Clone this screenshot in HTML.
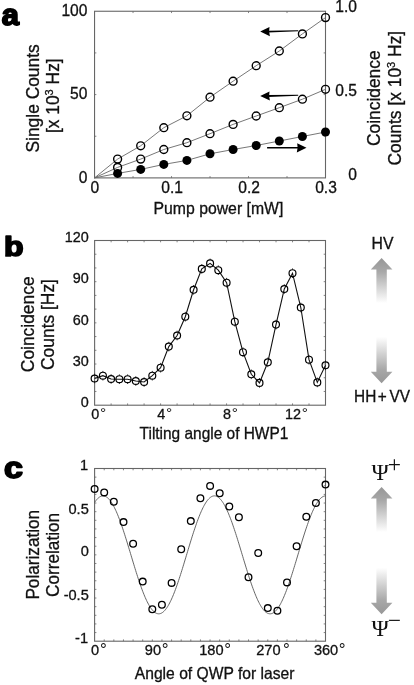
<!DOCTYPE html>
<html lang="en"><head><meta charset="utf-8"><title>Figure</title>
<style>html,body{margin:0;padding:0;background:#fff}svg{display:block}text{white-space:pre}</style>
</head><body>
<svg width="414" height="685" viewBox="0 0 414 685">
<rect x="94.55" y="11.25" width="230.95" height="166.65" fill="none" stroke="#666" stroke-width="1.1"/>
<path d="M133.04 11.25v1.8M133.04 177.9v-1.8M171.53 11.25v1.8M171.53 177.9v-1.8M210.02 11.25v1.8M210.02 177.9v-1.8M248.52 11.25v1.8M248.52 177.9v-1.8M287.01 11.25v1.8M287.01 177.9v-1.8M94.55 52.91h1.8M325.5 52.91h-1.8M94.55 94.58h1.8M325.5 94.58h-1.8M94.55 136.24h1.8M325.5 136.24h-1.8" stroke="#666" stroke-width="0.8" fill="none"/>
<polyline points="94.55,177.9 117.6,159.1 140.7,145.8 163.8,127.7 186.9,115.8 210.0,97.2 233.1,81.2 256.2,65.7 279.3,51.0 302.4,33.9 325.5,17.6" fill="none" stroke="#686868" stroke-width="0.9"/>
<polyline points="94.55,177.9 117.6,167.4 140.7,159.1 163.8,149.5 186.9,142.7 210.0,133.7 233.1,124.4 256.2,116.0 279.3,107.7 302.4,99.2 325.5,89.3" fill="none" stroke="#686868" stroke-width="0.9"/>
<polyline points="94.55,177.9 117.6,173.4 140.7,169.4 163.8,164.4 186.9,160.4 210.0,153.8 233.1,149.5 256.2,145.5 279.3,141.0 302.4,136.5 325.5,132.0" fill="none" stroke="#686868" stroke-width="0.9"/>
<circle cx="117.6" cy="159.1" r="3.95" fill="none" stroke="#000" stroke-width="1.4"/>
<circle cx="140.7" cy="145.8" r="3.95" fill="none" stroke="#000" stroke-width="1.4"/>
<circle cx="163.8" cy="127.7" r="3.95" fill="none" stroke="#000" stroke-width="1.4"/>
<circle cx="186.9" cy="115.8" r="3.95" fill="none" stroke="#000" stroke-width="1.4"/>
<circle cx="210.0" cy="97.2" r="3.95" fill="none" stroke="#000" stroke-width="1.4"/>
<circle cx="233.1" cy="81.2" r="3.95" fill="none" stroke="#000" stroke-width="1.4"/>
<circle cx="256.2" cy="65.7" r="3.95" fill="none" stroke="#000" stroke-width="1.4"/>
<circle cx="279.3" cy="51.0" r="3.95" fill="none" stroke="#000" stroke-width="1.4"/>
<circle cx="302.4" cy="33.9" r="3.95" fill="none" stroke="#000" stroke-width="1.4"/>
<circle cx="325.5" cy="17.6" r="3.95" fill="none" stroke="#000" stroke-width="1.4"/>
<circle cx="117.6" cy="167.4" r="3.95" fill="none" stroke="#000" stroke-width="1.4"/>
<circle cx="140.7" cy="159.1" r="3.95" fill="none" stroke="#000" stroke-width="1.4"/>
<circle cx="163.8" cy="149.5" r="3.95" fill="none" stroke="#000" stroke-width="1.4"/>
<circle cx="186.9" cy="142.7" r="3.95" fill="none" stroke="#000" stroke-width="1.4"/>
<circle cx="210.0" cy="133.7" r="3.95" fill="none" stroke="#000" stroke-width="1.4"/>
<circle cx="233.1" cy="124.4" r="3.95" fill="none" stroke="#000" stroke-width="1.4"/>
<circle cx="256.2" cy="116.0" r="3.95" fill="none" stroke="#000" stroke-width="1.4"/>
<circle cx="279.3" cy="107.7" r="3.95" fill="none" stroke="#000" stroke-width="1.4"/>
<circle cx="302.4" cy="99.2" r="3.95" fill="none" stroke="#000" stroke-width="1.4"/>
<circle cx="325.5" cy="89.3" r="3.95" fill="none" stroke="#000" stroke-width="1.4"/>
<circle cx="117.6" cy="173.4" r="4.5" fill="#000"/>
<circle cx="140.7" cy="169.4" r="4.5" fill="#000"/>
<circle cx="163.8" cy="164.4" r="4.5" fill="#000"/>
<circle cx="186.9" cy="160.4" r="4.5" fill="#000"/>
<circle cx="210.0" cy="153.8" r="4.5" fill="#000"/>
<circle cx="233.1" cy="149.5" r="4.5" fill="#000"/>
<circle cx="256.2" cy="145.5" r="4.5" fill="#000"/>
<circle cx="279.3" cy="141.0" r="4.5" fill="#000"/>
<circle cx="302.4" cy="136.5" r="4.5" fill="#000"/>
<circle cx="325.5" cy="132.0" r="4.5" fill="#000"/>
<path d="M268.2 30.650000000000002L298.2 30.15L298.2 31.25L268.2 32.550000000000004Z" fill="#000"/>
<path d="M260.2 31.6L269.5 27.0L269.09999999999997 31.6L269.9 36.2Z" fill="#000"/>
<path d="M268.2 95.05L298.2 94.75L298.2 95.85L268.2 96.95Z" fill="#000"/>
<path d="M260.2 96.0L269.5 91.4L269.09999999999997 96.0L269.9 100.6Z" fill="#000"/>
<path d="M298.5 147.0L267.1 147.05L267.1 148.55L298.5 148.60000000000002Z" fill="#000"/>
<path d="M306.5 147.8L297.2 143.20000000000002L297.6 147.8L296.8 152.4Z" fill="#000"/>
<g stroke="#111" stroke-width="0.3" font-family="Liberation Sans, Arial, sans-serif" fill="#111">
<text transform="translate(87.4 15.8) scale(1 1.04)" font-size="15.6" text-anchor="end" >100</text>
<text transform="translate(87.4 99.2) scale(1 1.04)" font-size="15.6" text-anchor="end" >50</text>
<text transform="translate(87.4 183.1) scale(1 1.04)" font-size="15.6" text-anchor="end" >0</text>
<text transform="translate(94.9 193.0) scale(1 1.04)" font-size="15.6" text-anchor="middle" >0</text>
<text transform="translate(172.1 193.0) scale(1 1.04)" font-size="15.6" text-anchor="middle" >0.1</text>
<text transform="translate(249.2 193.0) scale(1 1.04)" font-size="15.6" text-anchor="middle" >0.2</text>
<text transform="translate(326.0 193.0) scale(1 1.04)" font-size="15.6" text-anchor="middle" >0.3</text>
<text transform="translate(356.9 12.3) scale(1 1.04)" font-size="15.6" text-anchor="end" >1.0</text>
<text transform="translate(356.9 95.7) scale(1 1.04)" font-size="15.6" text-anchor="end" >0.5</text>
<text transform="translate(356.9 179.5) scale(1 1.04)" font-size="15.6" text-anchor="end" >0</text>
<text transform="translate(153.5 213.8) scale(1 1.04)" font-size="15.8" text-anchor="start" >Pump power [mW]</text>
<text transform="translate(39.1 98.4) rotate(-90) scale(1 1.03)" font-size="17.4" text-anchor="middle" >Single Counts</text>
<text transform="translate(59.3 95.7) rotate(-90) scale(1 1.03)" font-size="17.4" text-anchor="middle" >[x 10<tspan font-size="11" dy="-6">3</tspan><tspan dy="6"> Hz]</tspan></text>
<text transform="translate(380.1 98.2) rotate(-90) scale(1 1.03)" font-size="17.4" text-anchor="middle" >Coincidence</text>
<text transform="translate(400.8 98.2) rotate(-90) scale(1 1.03)" font-size="17.4" text-anchor="middle" >Counts [x 10<tspan font-size="11" dy="-6">3</tspan><tspan dy="6"> Hz]</tspan></text>
</g>
<rect x="94.62" y="240.5" width="230.88" height="164.7" fill="none" stroke="#666" stroke-width="1.1"/>
<path d="M111.11 240.5v1.8M111.11 405.2v-1.8M127.60 240.5v1.8M127.60 405.2v-1.8M144.09 240.5v1.8M144.09 405.2v-1.8M160.59 240.5v1.8M160.59 405.2v-1.8M177.08 240.5v1.8M177.08 405.2v-1.8M193.57 240.5v1.8M193.57 405.2v-1.8M210.06 240.5v1.8M210.06 405.2v-1.8M226.55 240.5v1.8M226.55 405.2v-1.8M243.04 240.5v1.8M243.04 405.2v-1.8M259.53 240.5v1.8M259.53 405.2v-1.8M276.03 240.5v1.8M276.03 405.2v-1.8M292.52 240.5v1.8M292.52 405.2v-1.8M309.01 240.5v1.8M309.01 405.2v-1.8M94.62 254.22h1.8M325.5 254.22h-1.8M94.62 267.95h1.8M325.5 267.95h-1.8M94.62 281.68h1.8M325.5 281.68h-1.8M94.62 295.40h1.8M325.5 295.40h-1.8M94.62 309.12h1.8M325.5 309.12h-1.8M94.62 322.85h1.8M325.5 322.85h-1.8M94.62 336.57h1.8M325.5 336.57h-1.8M94.62 350.30h1.8M325.5 350.30h-1.8M94.62 364.02h1.8M325.5 364.02h-1.8M94.62 377.75h1.8M325.5 377.75h-1.8M94.62 391.48h1.8M325.5 391.48h-1.8" stroke="#666" stroke-width="0.8" fill="none"/>
<polyline points="94.6,378.5 102.9,375.7 111.1,379 119.4,379.2 127.6,379.2 135.8,381 144.1,382 152.3,375.7 160.6,367.7 168.8,346.6 177.1,335.5 185.3,316.7 193.6,289.8 201.8,268.9 210.1,263.4 218.3,270.2 226.6,282.7 234.8,321.7 243.0,352.2 251.3,374.3 259.5,382.9 267.8,362.3 276.0,324.6 284.3,289 292.5,273.2 300.8,307.5 309.0,359.7 317.3,382.4 325.5,365.3" fill="none" stroke="#111" stroke-width="1.1"/>
<path d="M94.6 373.7v1.2M94.6 382.1v1.2" stroke="#222" stroke-width="0.9"/>
<circle cx="94.6" cy="378.5" r="3.45" fill="none" stroke="#000" stroke-width="1.2"/>
<path d="M102.9 370.9v1.2M102.9 379.3v1.2" stroke="#222" stroke-width="0.9"/>
<circle cx="102.9" cy="375.7" r="3.45" fill="none" stroke="#000" stroke-width="1.2"/>
<path d="M111.1 374.2v1.2M111.1 382.6v1.2" stroke="#222" stroke-width="0.9"/>
<circle cx="111.1" cy="379" r="3.45" fill="none" stroke="#000" stroke-width="1.2"/>
<path d="M119.4 374.4v1.2M119.4 382.8v1.2" stroke="#222" stroke-width="0.9"/>
<circle cx="119.4" cy="379.2" r="3.45" fill="none" stroke="#000" stroke-width="1.2"/>
<path d="M127.6 374.4v1.2M127.6 382.8v1.2" stroke="#222" stroke-width="0.9"/>
<circle cx="127.6" cy="379.2" r="3.45" fill="none" stroke="#000" stroke-width="1.2"/>
<path d="M135.8 376.2v1.2M135.8 384.6v1.2" stroke="#222" stroke-width="0.9"/>
<circle cx="135.8" cy="381" r="3.45" fill="none" stroke="#000" stroke-width="1.2"/>
<path d="M144.1 377.2v1.2M144.1 385.6v1.2" stroke="#222" stroke-width="0.9"/>
<circle cx="144.1" cy="382" r="3.45" fill="none" stroke="#000" stroke-width="1.2"/>
<path d="M152.3 370.9v1.2M152.3 379.3v1.2" stroke="#222" stroke-width="0.9"/>
<circle cx="152.3" cy="375.7" r="3.45" fill="none" stroke="#000" stroke-width="1.2"/>
<path d="M160.6 362.9v1.2M160.6 371.3v1.2" stroke="#222" stroke-width="0.9"/>
<circle cx="160.6" cy="367.7" r="3.45" fill="none" stroke="#000" stroke-width="1.2"/>
<path d="M168.8 341.8v1.2M168.8 350.20000000000005v1.2" stroke="#222" stroke-width="0.9"/>
<circle cx="168.8" cy="346.6" r="3.45" fill="none" stroke="#000" stroke-width="1.2"/>
<path d="M177.1 330.7v1.2M177.1 339.1v1.2" stroke="#222" stroke-width="0.9"/>
<circle cx="177.1" cy="335.5" r="3.45" fill="none" stroke="#000" stroke-width="1.2"/>
<path d="M185.3 311.9v1.2M185.3 320.3v1.2" stroke="#222" stroke-width="0.9"/>
<circle cx="185.3" cy="316.7" r="3.45" fill="none" stroke="#000" stroke-width="1.2"/>
<path d="M193.6 285.0v1.2M193.6 293.40000000000003v1.2" stroke="#222" stroke-width="0.9"/>
<circle cx="193.6" cy="289.8" r="3.45" fill="none" stroke="#000" stroke-width="1.2"/>
<path d="M201.8 264.09999999999997v1.2M201.8 272.5v1.2" stroke="#222" stroke-width="0.9"/>
<circle cx="201.8" cy="268.9" r="3.45" fill="none" stroke="#000" stroke-width="1.2"/>
<path d="M210.1 258.59999999999997v1.2M210.1 267.0v1.2" stroke="#222" stroke-width="0.9"/>
<circle cx="210.1" cy="263.4" r="3.45" fill="none" stroke="#000" stroke-width="1.2"/>
<path d="M218.3 265.4v1.2M218.3 273.8v1.2" stroke="#222" stroke-width="0.9"/>
<circle cx="218.3" cy="270.2" r="3.45" fill="none" stroke="#000" stroke-width="1.2"/>
<path d="M226.6 277.9v1.2M226.6 286.3v1.2" stroke="#222" stroke-width="0.9"/>
<circle cx="226.6" cy="282.7" r="3.45" fill="none" stroke="#000" stroke-width="1.2"/>
<path d="M234.8 316.9v1.2M234.8 325.3v1.2" stroke="#222" stroke-width="0.9"/>
<circle cx="234.8" cy="321.7" r="3.45" fill="none" stroke="#000" stroke-width="1.2"/>
<path d="M243.0 347.4v1.2M243.0 355.8v1.2" stroke="#222" stroke-width="0.9"/>
<circle cx="243.0" cy="352.2" r="3.45" fill="none" stroke="#000" stroke-width="1.2"/>
<path d="M251.3 369.5v1.2M251.3 377.90000000000003v1.2" stroke="#222" stroke-width="0.9"/>
<circle cx="251.3" cy="374.3" r="3.45" fill="none" stroke="#000" stroke-width="1.2"/>
<path d="M259.5 378.09999999999997v1.2M259.5 386.5v1.2" stroke="#222" stroke-width="0.9"/>
<circle cx="259.5" cy="382.9" r="3.45" fill="none" stroke="#000" stroke-width="1.2"/>
<path d="M267.8 357.5v1.2M267.8 365.90000000000003v1.2" stroke="#222" stroke-width="0.9"/>
<circle cx="267.8" cy="362.3" r="3.45" fill="none" stroke="#000" stroke-width="1.2"/>
<path d="M276.0 319.8v1.2M276.0 328.20000000000005v1.2" stroke="#222" stroke-width="0.9"/>
<circle cx="276.0" cy="324.6" r="3.45" fill="none" stroke="#000" stroke-width="1.2"/>
<path d="M284.3 284.2v1.2M284.3 292.6v1.2" stroke="#222" stroke-width="0.9"/>
<circle cx="284.3" cy="289" r="3.45" fill="none" stroke="#000" stroke-width="1.2"/>
<path d="M292.5 268.4v1.2M292.5 276.8v1.2" stroke="#222" stroke-width="0.9"/>
<circle cx="292.5" cy="273.2" r="3.45" fill="none" stroke="#000" stroke-width="1.2"/>
<path d="M300.8 302.7v1.2M300.8 311.1v1.2" stroke="#222" stroke-width="0.9"/>
<circle cx="300.8" cy="307.5" r="3.45" fill="none" stroke="#000" stroke-width="1.2"/>
<path d="M309.0 354.9v1.2M309.0 363.3v1.2" stroke="#222" stroke-width="0.9"/>
<circle cx="309.0" cy="359.7" r="3.45" fill="none" stroke="#000" stroke-width="1.2"/>
<path d="M317.3 377.59999999999997v1.2M317.3 386.0v1.2" stroke="#222" stroke-width="0.9"/>
<circle cx="317.3" cy="382.4" r="3.45" fill="none" stroke="#000" stroke-width="1.2"/>
<path d="M325.5 360.5v1.2M325.5 368.90000000000003v1.2" stroke="#222" stroke-width="0.9"/>
<circle cx="325.5" cy="365.3" r="3.45" fill="none" stroke="#000" stroke-width="1.2"/>
<g stroke="#111" stroke-width="0.3" font-family="Liberation Sans, Arial, sans-serif" fill="#111">
<text x="88.8" y="241.8" font-size="14.4" text-anchor="end" >120</text>
<text x="88.8" y="283.2" font-size="14.4" text-anchor="end" >90</text>
<text x="88.8" y="324.5" font-size="14.4" text-anchor="end" >60</text>
<text x="88.8" y="365.9" font-size="14.4" text-anchor="end" >30</text>
<text x="88.8" y="406.9" font-size="14.4" text-anchor="end" >0</text>
<text x="91.2" y="419" font-size="14.4">0<tspan dx="0.7" dy="-0.6" font-size="15.5" stroke="none">°</tspan></text>
<text x="157.2" y="419" font-size="14.4">4<tspan dx="0.7" dy="-0.6" font-size="15.5" stroke="none">°</tspan></text>
<text x="223.1" y="419" font-size="14.4">8<tspan dx="0.7" dy="-0.6" font-size="15.5" stroke="none">°</tspan></text>
<text x="285.1" y="419" font-size="14.4">12<tspan dx="0.7" dy="-0.6" font-size="15.5" stroke="none">°</tspan></text>
<text transform="translate(139.6 439) scale(1 1.04)" font-size="15.45" text-anchor="start" >Tilting angle of HWP1</text>
<text transform="translate(33.8 324.3) rotate(-90) scale(1 1.03)" font-size="17.4" text-anchor="middle" >Coincidence</text>
<text transform="translate(54.2 324.5) rotate(-90) scale(1 1.03)" font-size="17.4" text-anchor="middle" >Counts [Hz]</text>
<text transform="translate(371.6 249) scale(1 1.04)" font-size="15.8" text-anchor="start" >HV</text>
<text transform="translate(354.1 401.6) scale(1 1.05)" font-size="15.4" text-anchor="start" >HH</text>
<text transform="translate(377.7 401.6) scale(1 1.05)" font-size="15.4" text-anchor="start" >+</text>
<text transform="translate(389.6 401.6) scale(1 1.05)" font-size="15.4" text-anchor="start" >VV</text>
</g>
<defs>
<linearGradient id="gu" x1="0" y1="0" x2="0" y2="1"><stop offset="0" stop-color="#979797"/><stop offset="0.3" stop-color="#a8a8a8"/><stop offset="1" stop-color="#ffffff"/></linearGradient>
<linearGradient id="gd" x1="0" y1="1" x2="0" y2="0"><stop offset="0" stop-color="#979797"/><stop offset="0.3" stop-color="#a8a8a8"/><stop offset="1" stop-color="#ffffff"/></linearGradient>
</defs>
<path d="M381.6 258.1L392.40000000000003 269.6H386.8V303.1H376.40000000000003V269.6H370.8Z" fill="url(#gu)"/>
<path d="M381.6 383.3L392.40000000000003 371.8H386.8V336.8H376.40000000000003V371.8H370.8Z" fill="url(#gd)"/>
<path d="M381.6 487.0L392.40000000000003 498.5H386.8V532.0H376.40000000000003V498.5H370.8Z" fill="url(#gu)"/>
<path d="M381.6 614.2L392.40000000000003 602.7H386.8V567.7H376.40000000000003V602.7H370.8Z" fill="url(#gd)"/>
<rect x="94.6" y="468.5" width="230.9" height="172.70000000000005" fill="none" stroke="#666" stroke-width="1.1"/>
<path d="M104.22 468.5v1.8M104.22 641.2v-1.8M113.84 468.5v1.8M113.84 641.2v-1.8M123.46 468.5v1.8M123.46 641.2v-1.8M133.08 468.5v1.8M133.08 641.2v-1.8M142.70 468.5v1.8M142.70 641.2v-1.8M152.32 468.5v1.8M152.32 641.2v-1.8M161.95 468.5v1.8M161.95 641.2v-1.8M171.57 468.5v1.8M171.57 641.2v-1.8M181.19 468.5v1.8M181.19 641.2v-1.8M190.81 468.5v1.8M190.81 641.2v-1.8M200.43 468.5v1.8M200.43 641.2v-1.8M210.05 468.5v1.8M210.05 641.2v-1.8M219.67 468.5v1.8M219.67 641.2v-1.8M229.29 468.5v1.8M229.29 641.2v-1.8M238.91 468.5v1.8M238.91 641.2v-1.8M248.53 468.5v1.8M248.53 641.2v-1.8M258.15 468.5v1.8M258.15 641.2v-1.8M267.77 468.5v1.8M267.77 641.2v-1.8M277.40 468.5v1.8M277.40 641.2v-1.8M287.02 468.5v1.8M287.02 641.2v-1.8M296.64 468.5v1.8M296.64 641.2v-1.8M306.26 468.5v1.8M306.26 641.2v-1.8M315.88 468.5v1.8M315.88 641.2v-1.8M94.6 477.13h1.8M325.5 477.13h-1.8M94.6 485.77h1.8M325.5 485.77h-1.8M94.6 494.41h1.8M325.5 494.41h-1.8M94.6 503.04h1.8M325.5 503.04h-1.8M94.6 511.68h1.8M325.5 511.68h-1.8M94.6 520.31h1.8M325.5 520.31h-1.8M94.6 528.95h1.8M325.5 528.95h-1.8M94.6 537.58h1.8M325.5 537.58h-1.8M94.6 546.22h1.8M325.5 546.22h-1.8M94.6 554.85h1.8M325.5 554.85h-1.8M94.6 563.49h1.8M325.5 563.49h-1.8M94.6 572.12h1.8M325.5 572.12h-1.8M94.6 580.75h1.8M325.5 580.75h-1.8M94.6 589.39h1.8M325.5 589.39h-1.8M94.6 598.03h1.8M325.5 598.03h-1.8M94.6 606.66h1.8M325.5 606.66h-1.8M94.6 615.30h1.8M325.5 615.30h-1.8M94.6 623.93h1.8M325.5 623.93h-1.8M94.6 632.57h1.8M325.5 632.57h-1.8" stroke="#666" stroke-width="0.8" fill="none"/>
<polyline points="94.60,502.48 95.24,501.53 95.88,500.65 96.52,499.85 97.17,499.11 97.81,498.45 98.45,497.86 99.09,497.35 99.73,496.91 100.37,496.55 101.01,496.27 101.66,496.06 102.30,495.93 102.94,495.87 103.58,495.90 104.22,496.00 104.86,496.18 105.50,496.43 106.14,496.76 106.79,497.17 107.43,497.65 108.07,498.21 108.71,498.84 109.35,499.54 109.99,500.32 110.63,501.17 111.28,502.09 111.92,503.08 112.56,504.13 113.20,505.26 113.84,506.44 114.48,507.69 115.12,509.01 115.77,510.38 116.41,511.81 117.05,513.30 117.69,514.84 118.33,516.43 118.97,518.08 119.61,519.77 120.26,521.51 120.90,523.29 121.54,525.12 122.18,526.98 122.82,528.88 123.46,530.81 124.10,532.77 124.75,534.77 125.39,536.79 126.03,538.83 126.67,540.90 127.31,542.98 127.95,545.08 128.59,547.19 129.23,549.31 129.88,551.44 130.52,553.57 131.16,555.70 131.80,557.84 132.44,559.97 133.08,562.09 133.72,564.20 134.37,566.30 135.01,568.39 135.65,570.46 136.29,572.51 136.93,574.53 137.57,576.53 138.21,578.50 138.86,580.44 139.50,582.35 140.14,584.22 140.78,586.05 141.42,587.84 142.06,589.58 142.70,591.29 143.35,592.94 143.99,594.55 144.63,596.10 145.27,597.60 145.91,599.04 146.55,600.42 147.19,601.75 147.84,603.01 148.48,604.21 149.12,605.35 149.76,606.42 150.40,607.42 151.04,608.35 151.68,609.21 152.32,610.01 152.97,610.73 153.61,611.37 154.25,611.94 154.89,612.44 155.53,612.86 156.17,613.21 156.81,613.48 157.46,613.67 158.10,613.79 158.74,613.83 159.38,613.79 160.02,613.67 160.66,613.48 161.30,613.21 161.95,612.86 162.59,612.44 163.23,611.94 163.87,611.37 164.51,610.73 165.15,610.01 165.79,609.21 166.44,608.35 167.08,607.42 167.72,606.42 168.36,605.35 169.00,604.21 169.64,603.01 170.28,601.75 170.93,600.42 171.57,599.04 172.21,597.60 172.85,596.10 173.49,594.55 174.13,592.94 174.77,591.29 175.41,589.58 176.06,587.84 176.70,586.05 177.34,584.22 177.98,582.35 178.62,580.44 179.26,578.50 179.90,576.53 180.55,574.53 181.19,572.51 181.83,570.46 182.47,568.39 183.11,566.30 183.75,564.20 184.39,562.09 185.04,559.97 185.68,557.84 186.32,555.70 186.96,553.57 187.60,551.44 188.24,549.31 188.88,547.19 189.53,545.08 190.17,542.98 190.81,540.90 191.45,538.83 192.09,536.79 192.73,534.77 193.37,532.77 194.02,530.81 194.66,528.88 195.30,526.98 195.94,525.12 196.58,523.29 197.22,521.51 197.86,519.77 198.50,518.08 199.15,516.43 199.79,514.84 200.43,513.30 201.07,511.81 201.71,510.38 202.35,509.01 202.99,507.69 203.64,506.44 204.28,505.26 204.92,504.13 205.56,503.08 206.20,502.09 206.84,501.17 207.48,500.32 208.13,499.54 208.77,498.84 209.41,498.21 210.05,497.65 210.69,497.17 211.33,496.76 211.97,496.43 212.62,496.18 213.26,496.00 213.90,495.90 214.54,495.87 215.18,495.93 215.82,496.06 216.46,496.27 217.11,496.55 217.75,496.91 218.39,497.35 219.03,497.86 219.67,498.45 220.31,499.11 220.95,499.85 221.60,500.65 222.24,501.53 222.88,502.48 223.52,503.49 224.16,504.57 224.80,505.72 225.44,506.94 226.08,508.21 226.73,509.55 227.37,510.95 228.01,512.40 228.65,513.91 229.29,515.47 229.93,517.09 230.57,518.75 231.22,520.46 231.86,522.22 232.50,524.02 233.14,525.86 233.78,527.73 234.42,529.65 235.06,531.59 235.71,533.57 236.35,535.57 236.99,537.60 237.63,539.65 238.27,541.73 238.91,543.82 239.55,545.92 240.20,548.03 240.84,550.16 241.48,552.29 242.12,554.42 242.76,556.56 243.40,558.69 244.04,560.82 244.69,562.94 245.33,565.04 245.97,567.14 246.61,569.22 247.25,571.28 247.89,573.32 248.53,575.33 249.17,577.32 249.82,579.28 250.46,581.21 251.10,583.10 251.74,584.95 252.38,586.77 253.02,588.54 253.66,590.27 254.31,591.95 254.95,593.59 255.59,595.17 256.23,596.70 256.87,598.18 257.51,599.60 258.15,600.96 258.80,602.26 259.44,603.50 260.08,604.67 260.72,605.78 261.36,606.83 262.00,607.80 262.64,608.71 263.29,609.54 263.93,610.30 264.57,610.99 265.21,611.61 265.85,612.15 266.49,612.62 267.13,613.01 267.77,613.33 268.42,613.57 269.06,613.73 269.70,613.81 270.34,613.82 270.98,613.75 271.62,613.60 272.26,613.38 272.91,613.08 273.55,612.70 274.19,612.25 274.83,611.72 275.47,611.12 276.11,610.45 276.75,609.70 277.40,608.88 278.04,607.99 278.68,607.03 279.32,606.00 279.96,604.90 280.60,603.74 281.24,602.51 281.89,601.23 282.53,599.88 283.17,598.47 283.81,597.00 284.45,595.48 285.09,593.91 285.73,592.29 286.38,590.61 287.02,588.89 287.66,587.13 288.30,585.32 288.94,583.47 289.58,581.59 290.22,579.67 290.87,577.72 291.51,575.73 292.15,573.72 292.79,571.69 293.43,569.63 294.07,567.56 294.71,565.46 295.35,563.36 296.00,561.24 296.64,559.12 297.28,556.98 297.92,554.85 298.56,552.72 299.20,550.58 299.84,548.46 300.49,546.34 301.13,544.24 301.77,542.14 302.41,540.07 303.05,538.01 303.69,535.98 304.33,533.97 304.98,531.98 305.62,530.03 306.26,528.11 306.90,526.23 307.54,524.38 308.18,522.57 308.82,520.81 309.47,519.09 310.11,517.41 310.75,515.79 311.39,514.22 312.03,512.70 312.67,511.23 313.31,509.82 313.96,508.47 314.60,507.19 315.24,505.96 315.88,504.80 316.52,503.70 317.16,502.67 317.80,501.71 318.44,500.82 319.09,500.00 319.73,499.25 320.37,498.58 321.01,497.98 321.65,497.45 322.29,497.00 322.93,496.62 323.58,496.32 324.22,496.10 324.86,495.95 325.50,495.88" fill="none" stroke="#555" stroke-width="0.9"/>
<circle cx="94.6" cy="488.9" r="3.35" fill="none" stroke="#000" stroke-width="1.3"/>
<circle cx="104.2" cy="492.4" r="3.35" fill="none" stroke="#000" stroke-width="1.3"/>
<circle cx="113.8" cy="501.7" r="3.35" fill="none" stroke="#000" stroke-width="1.3"/>
<circle cx="123.5" cy="522.1" r="3.35" fill="none" stroke="#000" stroke-width="1.3"/>
<circle cx="133.1" cy="543.7" r="3.35" fill="none" stroke="#000" stroke-width="1.3"/>
<circle cx="142.7" cy="581.6" r="3.35" fill="none" stroke="#000" stroke-width="1.3"/>
<circle cx="152.3" cy="609.2" r="3.35" fill="none" stroke="#000" stroke-width="1.3"/>
<circle cx="161.9" cy="604.7" r="3.35" fill="none" stroke="#000" stroke-width="1.3"/>
<circle cx="171.6" cy="582.9" r="3.35" fill="none" stroke="#000" stroke-width="1.3"/>
<circle cx="181.2" cy="549.2" r="3.35" fill="none" stroke="#000" stroke-width="1.3"/>
<circle cx="190.8" cy="521.1" r="3.35" fill="none" stroke="#000" stroke-width="1.3"/>
<circle cx="200.4" cy="498.2" r="3.35" fill="none" stroke="#000" stroke-width="1.3"/>
<circle cx="210.1" cy="485.9" r="3.35" fill="none" stroke="#000" stroke-width="1.3"/>
<circle cx="219.7" cy="493.2" r="3.35" fill="none" stroke="#000" stroke-width="1.3"/>
<circle cx="229.3" cy="506.5" r="3.35" fill="none" stroke="#000" stroke-width="1.3"/>
<circle cx="238.9" cy="517.3" r="3.35" fill="none" stroke="#000" stroke-width="1.3"/>
<circle cx="248.5" cy="577.2" r="3.35" fill="none" stroke="#000" stroke-width="1.3"/>
<circle cx="258.2" cy="553" r="3.35" fill="none" stroke="#000" stroke-width="1.3"/>
<circle cx="267.8" cy="608.1" r="3.35" fill="none" stroke="#000" stroke-width="1.3"/>
<circle cx="277.4" cy="610.8" r="3.35" fill="none" stroke="#000" stroke-width="1.3"/>
<circle cx="287.0" cy="582.4" r="3.35" fill="none" stroke="#000" stroke-width="1.3"/>
<circle cx="296.6" cy="546.3" r="3.35" fill="none" stroke="#000" stroke-width="1.3"/>
<circle cx="306.3" cy="516.8" r="3.35" fill="none" stroke="#000" stroke-width="1.3"/>
<circle cx="315.9" cy="503" r="3.35" fill="none" stroke="#000" stroke-width="1.3"/>
<circle cx="325.5" cy="484.6" r="3.35" fill="none" stroke="#000" stroke-width="1.3"/>
<g stroke="#111" stroke-width="0.3" font-family="Liberation Sans, Arial, sans-serif" fill="#111">
<text x="88.0" y="470.1" font-size="14.6" text-anchor="end" >1</text>
<text x="88.8" y="513.6" font-size="14.6" text-anchor="end" >0.5</text>
<text x="88.8" y="556.1" font-size="14.6" text-anchor="end" >0</text>
<text x="88.8" y="599.8" font-size="14.6" text-anchor="end" >-0.5</text>
<text x="88.0" y="642.8" font-size="14.6" text-anchor="end" >-1</text>
<text x="91.1" y="654.7" font-size="14.6">0<tspan dx="0.8" dy="0.1" font-size="17" stroke="none">°</tspan></text>
<text x="144.8" y="654.7" font-size="14.6">90<tspan dx="0.8" dy="0.1" font-size="17" stroke="none">°</tspan></text>
<text x="199.2" y="654.7" font-size="14.6">180<tspan dx="0.6" dy="0.1" font-size="17" stroke="none">°</tspan></text>
<text x="256.2" y="654.7" font-size="14.6">270<tspan dx="2.4" dy="0.1" font-size="17" stroke="none">°</tspan></text>
<text x="313.9" y="654.7" font-size="14.6">360<tspan dx="0.4" dy="0.1" font-size="17" stroke="none">°</tspan></text>
<text transform="translate(134.8 679.3) scale(1 1.04)" font-size="15.65" text-anchor="start" >Angle of QWP for laser</text>
<text transform="translate(39.0 554.7) rotate(-90) scale(1 1.03)" font-size="17.2" text-anchor="middle" >Polarization</text>
<text transform="translate(59.1 554.9) rotate(-90) scale(1 1.03)" font-size="17.2" text-anchor="middle" >Correlation</text>
</g>
<g font-family="Liberation Serif, Times New Roman, serif" fill="#111">
<text x="371.6" y="479.8" font-size="23.5" text-anchor="start" >Ψ</text>
<text x="371.6" y="635.7" font-size="23.5" text-anchor="start" >Ψ</text>
</g>
<g font-family="Liberation Serif, Times New Roman, serif" fill="#111" font-size="21">
<text x="387.7" y="472.3" font-size="23.5" text-anchor="start" >+</text>
<text x="387.7" y="627.6" font-size="23.5" text-anchor="start" >−</text>
</g>
<g font-family="Liberation Sans, Arial, sans-serif" font-weight="bold" font-size="32" fill="#000" stroke="#000" stroke-width="2" stroke-linejoin="round">
<text transform="translate(1.7 25.35) scale(0.963 0.918)">a</text>
<text transform="translate(4.09 255.75) scale(1.0 0.872)">b</text>
<text transform="translate(4.1 478.45) scale(1.061 0.895)">c</text>
</g>
</svg>
</body></html>
